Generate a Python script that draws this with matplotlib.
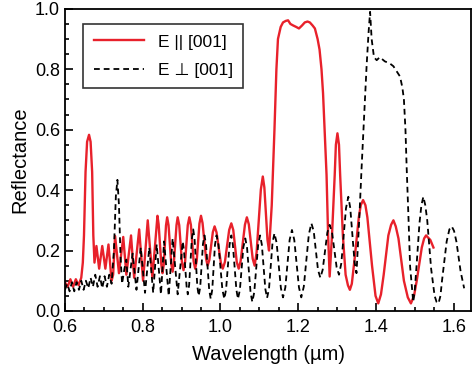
import numpy as np
import matplotlib
matplotlib.use("Agg")
from matplotlib import pyplot as plt
from matplotlib.ticker import MultipleLocator

plt.rcParams['font.family'] = ['Liberation Sans', 'DejaVu Sans']

# E || [001]  (red, solid)
wl_par = [0.600, 0.607, 0.614, 0.621, 0.628, 0.635, 0.642, 0.646, 0.649, 0.653,
          0.657, 0.662, 0.666, 0.670, 0.673, 0.676, 0.681, 0.688, 0.696, 0.704,
          0.712, 0.720, 0.724, 0.729, 0.739, 0.750, 0.758, 0.770, 0.778, 0.791,
          0.801, 0.813, 0.825, 0.838, 0.841, 0.848, 0.851, 0.854, 0.860, 0.863,
          0.8665, 0.8735, 0.877, 0.880, 0.887, 0.890, 0.894, 0.901, 0.905, 0.909,
          0.916, 0.920, 0.924, 0.931, 0.935, 0.939, 0.946, 0.950, 0.954, 0.963,
          0.967, 0.9715, 0.9805, 0.985, 0.990, 1.001, 1.006, 1.0115, 1.0225, 1.028,
          1.033, 1.042, 1.047, 1.052, 1.063, 1.068, 1.073, 1.083, 1.088, 1.093,
          1.104, 1.109, 1.113, 1.121, 1.125, 1.132, 1.139, 1.144, 1.148, 1.155,
          1.161, 1.168, 1.174, 1.180, 1.187, 1.195, 1.202, 1.210, 1.217, 1.224,
          1.230, 1.237, 1.243, 1.250, 1.255, 1.260, 1.264, 1.268, 1.273, 1.277,
          1.281, 1.287, 1.294, 1.297, 1.301, 1.305, 1.308, 1.315, 1.322, 1.328,
          1.333, 1.338, 1.345, 1.356, 1.361, 1.367, 1.373, 1.378, 1.390, 1.399,
          1.406, 1.413, 1.420, 1.432, 1.439, 1.445, 1.451, 1.458, 1.472, 1.482,
          1.490, 1.498, 1.505, 1.518, 1.524, 1.529, 1.540, 1.548]
r_par = [0.095, 0.080, 0.105, 0.080, 0.105, 0.085, 0.110, 0.160, 0.250, 0.460,
         0.560, 0.583, 0.560, 0.460, 0.250, 0.160, 0.215, 0.140, 0.215, 0.140,
         0.220, 0.100, 0.120, 0.248, 0.125, 0.245, 0.120, 0.250, 0.110, 0.270,
         0.100, 0.300, 0.110, 0.315, 0.287, 0.153, 0.125, 0.152, 0.283, 0.310,
         0.284, 0.156, 0.130, 0.156, 0.284, 0.310, 0.284, 0.161, 0.135, 0.161,
         0.284, 0.310, 0.285, 0.165, 0.140, 0.166, 0.289, 0.315, 0.291, 0.174,
         0.150, 0.169, 0.261, 0.280, 0.260, 0.160, 0.140, 0.162, 0.268, 0.290,
         0.268, 0.162, 0.140, 0.165, 0.285, 0.310, 0.287, 0.173, 0.150, 0.193,
         0.402, 0.445, 0.409, 0.236, 0.200, 0.350, 0.600, 0.800, 0.900, 0.940,
         0.955, 0.960, 0.962, 0.950, 0.945, 0.940, 0.935, 0.945, 0.955, 0.958,
         0.955, 0.945, 0.935, 0.900, 0.865, 0.800, 0.720, 0.600, 0.450, 0.250,
         0.114, 0.250, 0.450, 0.550, 0.588, 0.550, 0.450, 0.250, 0.120, 0.085,
         0.070, 0.090, 0.170, 0.310, 0.350, 0.367, 0.350, 0.310, 0.150, 0.050,
         0.025, 0.055, 0.120, 0.250, 0.285, 0.300, 0.280, 0.240, 0.100, 0.045,
         0.025, 0.050, 0.100, 0.210, 0.240, 0.250, 0.235, 0.210]

# E _|_ [001]  (black, dashed)
wl_perp = [0.600, 0.606, 0.612, 0.618, 0.624, 0.630, 0.636, 0.642, 0.648, 0.654,
           0.660, 0.666, 0.672, 0.678, 0.684, 0.690, 0.696, 0.702, 0.708, 0.714,
           0.720, 0.726, 0.731, 0.735, 0.739, 0.743, 0.747, 0.753, 0.758, 0.763,
           0.774, 0.784, 0.795, 0.806, 0.817, 0.827, 0.836, 0.847, 0.855, 0.867,
           0.877, 0.890, 0.903, 0.906, 0.913, 0.916, 0.9195, 0.9265, 0.930, 0.9335,
           0.9405, 0.944, 0.948, 0.955, 0.959, 0.963, 0.971, 0.975, 0.979, 0.986,
           0.990, 0.995, 1.005, 1.010, 1.0145, 1.0235, 1.028, 1.032, 1.041, 1.045,
           1.050, 1.059, 1.064, 1.0685, 1.0775, 1.082, 1.087, 1.097, 1.102, 1.1065,
           1.1155, 1.120, 1.125, 1.134, 1.139, 1.1445, 1.1555, 1.161, 1.167, 1.178,
           1.184, 1.190, 1.202, 1.208, 1.2145, 1.2275, 1.234, 1.240, 1.251, 1.257,
           1.263, 1.275, 1.281, 1.287, 1.299, 1.305, 1.311, 1.323, 1.329, 1.334,
           1.345, 1.350, 1.357, 1.363, 1.370, 1.376, 1.381, 1.385, 1.389, 1.395,
           1.402, 1.410, 1.423, 1.435, 1.445, 1.455, 1.462, 1.468, 1.472, 1.476,
           1.479, 1.484, 1.488, 1.496, 1.500, 1.504, 1.512, 1.517, 1.522, 1.527,
           1.532, 1.542, 1.551, 1.556, 1.561, 1.566, 1.570, 1.582, 1.589, 1.595,
           1.601, 1.607, 1.618, 1.627]
r_perp = [0.070, 0.090, 0.065, 0.095, 0.065, 0.095, 0.070, 0.100, 0.070, 0.100,
          0.075, 0.110, 0.080, 0.120, 0.080, 0.115, 0.075, 0.115, 0.080, 0.120,
          0.090, 0.200, 0.380, 0.434, 0.350, 0.180, 0.090, 0.140, 0.170, 0.080,
          0.190, 0.070, 0.210, 0.060, 0.210, 0.060, 0.220, 0.055, 0.230, 0.050,
          0.240, 0.055, 0.230, 0.204, 0.081, 0.055, 0.086, 0.239, 0.270, 0.238,
          0.082, 0.050, 0.079, 0.221, 0.250, 0.219, 0.071, 0.040, 0.071, 0.219,
          0.250, 0.219, 0.071, 0.040, 0.071, 0.219, 0.250, 0.219, 0.071, 0.040,
          0.069, 0.211, 0.240, 0.209, 0.061, 0.030, 0.062, 0.218, 0.250, 0.220,
          0.073, 0.043, 0.074, 0.226, 0.257, 0.226, 0.076, 0.045, 0.078, 0.235,
          0.268, 0.235, 0.078, 0.045, 0.081, 0.254, 0.290, 0.264, 0.136, 0.110,
          0.136, 0.259, 0.285, 0.261, 0.144, 0.120, 0.158, 0.340, 0.378, 0.341,
          0.162, 0.125, 0.300, 0.470, 0.650, 0.810, 0.920, 0.990, 0.900, 0.840,
          0.830, 0.840, 0.826, 0.820, 0.810, 0.790, 0.776, 0.740, 0.700, 0.600,
          0.478, 0.300, 0.146, 0.030, 0.070, 0.140, 0.290, 0.350, 0.378, 0.350,
          0.300, 0.140, 0.050, 0.030, 0.025, 0.050, 0.100, 0.230, 0.270, 0.280,
          0.265, 0.230, 0.130, 0.075]

fig = plt.figure(figsize=(4.74, 3.68), dpi=100)
ax = fig.add_axes([0.137, 0.155, 0.857, 0.821])

ax.plot(wl_par, r_par, color='#e8212b', lw=1.7, label='E || [001]')
ax.plot(wl_perp, r_perp, color='black', lw=1.3, ls=(0, (3.2, 2.2)),
        label='E \u22a5 [001]')

ax.set_xlim(0.6, 1.645)
ax.set_ylim(0.0, 1.0)
ax.xaxis.set_major_locator(MultipleLocator(0.2))
ax.xaxis.set_minor_locator(MultipleLocator(0.05))
ax.yaxis.set_major_locator(MultipleLocator(0.2))
ax.yaxis.set_minor_locator(MultipleLocator(0.05))
ax.xaxis.set_major_formatter(plt.FormatStrFormatter('%.1f'))
ax.yaxis.set_major_formatter(plt.FormatStrFormatter('%.1f'))
ax.tick_params(which='both', direction='in', labelsize=13, width=1.2)
ax.tick_params(which='major', length=6)
ax.tick_params(which='minor', length=3)
ax.tick_params(axis='x', which='major', pad=6)
for s in ax.spines.values():
    s.set_linewidth(1.3)

ax.set_xlabel('Wavelength (\u00b5m)', fontsize=14.5, labelpad=6)
ax.set_ylabel('Reflectance', fontsize=14.5)

leg = ax.legend(loc='upper left', bbox_to_anchor=(0.045, 0.95), fontsize=12.5,
                frameon=True, fancybox=False, edgecolor='black',
                handlelength=2.9, borderpad=0.6, labelspacing=0.75,
                borderaxespad=0)
leg.get_frame().set_linewidth(1.2)

fig.savefig('out.png', dpi=100)
